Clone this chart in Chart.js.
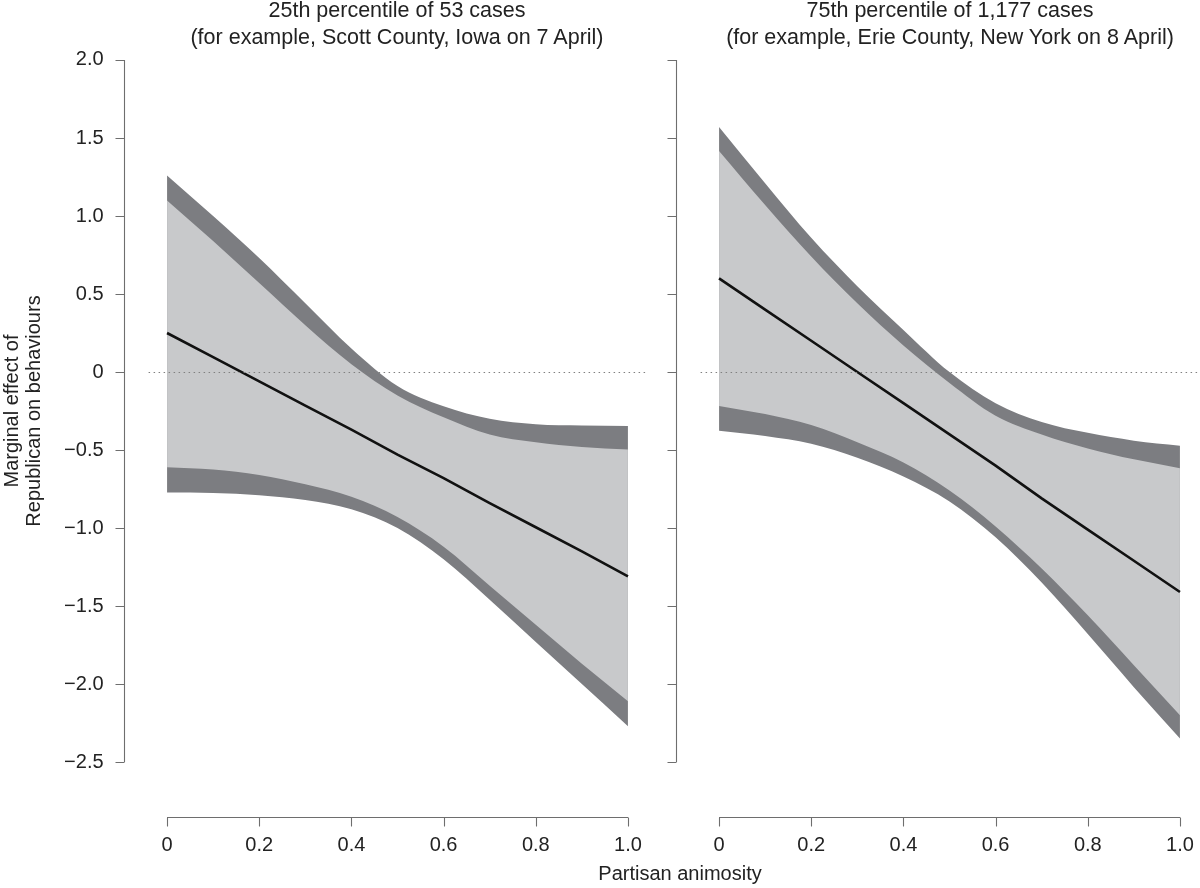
<!DOCTYPE html>
<html>
<head>
<meta charset="utf-8">
<script src="https://cdn.jsdelivr.net/npm/chart.js@4.4.1/dist/chart.umd.min.js"></script>
<style>
  body { margin: 0; background: #fff; font-family: "Liberation Sans", Arial, sans-serif; color: #222; }
  #fig { position: relative; width: 1200px; height: 888px; overflow: hidden; }
  .panel { position: absolute; top: 0; height: 888px; }
  .ptitle { position: absolute; top: -3px; transform: translateX(-50%); white-space: nowrap; text-align: center; font-size: 21.5px; line-height: 27px; }
  #xtitle { position: absolute; top: 862px; left: 680px; transform: translateX(-50%); font-size: 20px; line-height: 23px; white-space: nowrap; }
</style>
</head>
<body>
<div id="fig">
  <div class="panel" style="left:0;width:660px"><canvas id="left"></canvas></div>
  <div class="panel" style="left:660px;width:540px"><canvas id="right"></canvas></div>
  <div class="ptitle" style="left:397px">25th percentile of 53 cases<br>(for example, Scott County, Iowa on 7 April)</div>
  <div class="ptitle" style="left:950px">75th percentile of 1,177 cases<br>(for example, Erie County, New York on 8 April)</div>
  <div id="xtitle">Partisan animosity</div>
</div>
<script>
// partisan animosity grid
const animosity = [0, 0.1, 0.2, 0.3, 0.4, 0.5, 0.6, 0.7, 0.8, 0.9, 1.0];

// 25th percentile panel
const leftEffect     = [0.25, 0.095, -0.06, -0.215, -0.37, -0.53, -0.68, -0.84, -0.995, -1.15, -1.31];
const leftOuterUpper = [1.26, 1.00, 0.73, 0.44, 0.15, -0.09, -0.22, -0.30, -0.335, -0.343, -0.346];
const leftInnerUpper = [1.10, 0.84, 0.57, 0.30, 0.05, -0.15, -0.29, -0.40, -0.45, -0.48, -0.496];
const leftInnerLower = [-0.611, -0.625, -0.66, -0.72, -0.80, -0.93, -1.12, -1.37, -1.62, -1.87, -2.11];
const leftOuterLower = [-0.773, -0.775, -0.79, -0.82, -0.88, -1.00, -1.20, -1.46, -1.73, -2.00, -2.27];

// 75th percentile panel
const rightEffect     = [0.60, 0.40, 0.20, 0.00, -0.20, -0.40, -0.60, -0.81, -1.01, -1.21, -1.41];
const rightOuterUpper = [1.57, 1.21, 0.86, 0.55, 0.27, 0.00, -0.20, -0.32, -0.39, -0.44, -0.472];
const rightInnerUpper = [1.417, 1.07, 0.74, 0.44, 0.17, -0.07, -0.28, -0.40, -0.49, -0.56, -0.617];
const rightInnerLower = [-0.218, -0.27, -0.34, -0.45, -0.58, -0.76, -0.99, -1.26, -1.56, -1.88, -2.20];
const rightOuterLower = [-0.376, -0.41, -0.46, -0.55, -0.67, -0.83, -1.06, -1.35, -1.68, -2.02, -2.35];

const xTicks = [0, 0.2, 0.4, 0.6, 0.8, 1.0];
const xTickLabels = ['0', '0.2', '0.4', '0.6', '0.8', '1.0'];
const yTicks = [2.0, 1.5, 1.0, 0.5, 0, -0.5, -1.0, -1.5, -2.0, -2.5];
const yTickLabels = ['2.0', '1.5', '1.0', '0.5', '0', '\u22120.5', '\u22121.0', '\u22121.5', '\u22122.0', '\u22122.5'];

const DARK = '#7c7d81';
const LIGHT = '#c8c9cb';
const FONT = "'Liberation Sans', Arial, sans-serif";

// R-style detached axes + dotted zero line
const rAxes = {
  id: 'rAxes',
  afterDatasetsDraw(chart) {
    const { ctx, chartArea: a, scales: { y } } = chart;
    const y0 = Math.round(y.getPixelForValue(0)) + 0.5;
    ctx.save();
    ctx.strokeStyle = '#808080';
    ctx.lineWidth = 1.2;
    ctx.setLineDash([1.5, 3.5]);
    ctx.beginPath(); ctx.moveTo(a.left, y0); ctx.lineTo(a.right, y0); ctx.stroke();
    ctx.restore();
  },
  afterDraw(chart) {
    const { ctx, chartArea: a, scales: { x, y } } = chart;
    ctx.save();
    ctx.strokeStyle = '#6e6e6e';
    ctx.lineWidth = 1.1;
    const ax = Math.round(a.left - 25) + 0.5;
    ctx.beginPath();
    ctx.moveTo(ax, y.getPixelForValue(yTicks[0]));
    ctx.lineTo(ax, y.getPixelForValue(yTicks[yTicks.length - 1]));
    yTicks.forEach(v => {
      const p = Math.round(y.getPixelForValue(v)) + 0.5;
      ctx.moveTo(ax - 9, p); ctx.lineTo(ax, p);
    });
    const ay = Math.round(a.bottom + 27) + 0.5;
    ctx.moveTo(x.getPixelForValue(xTicks[0]), ay);
    ctx.lineTo(x.getPixelForValue(xTicks[xTicks.length - 1]), ay);
    xTicks.forEach(v => {
      const p = Math.round(x.getPixelForValue(v)) + 0.5;
      ctx.moveTo(p, ay); ctx.lineTo(p, ay + 9);
    });
    ctx.stroke();
    ctx.restore();
  }
};

function pts(ys) {
  return animosity.map((v, i) => ({ x: v, y: ys[i] }));
}

function band(ys, color, fill) {
  return {
    data: pts(ys),
    borderWidth: 0,
    borderColor: 'rgba(0,0,0,0)',
    backgroundColor: color,
    pointRadius: 0,
    cubicInterpolationMode: 'monotone',
    fill: fill
  };
}

function makePanel(id, eff, ou, iu, il, ol, yWidth, padRight, showY) {
  return new Chart(document.getElementById(id), {
    type: 'line',
    data: {
      datasets: [
        { data: pts(eff), borderColor: '#111', borderWidth: 2.6, pointRadius: 0, fill: false },
        band(iu, LIGHT, '+1'),
        band(il, LIGHT, false),
        band(ou, DARK, '+1'),
        band(ol, DARK, false)
      ]
    },
    options: {
      responsive: true,
      maintainAspectRatio: false,
      animation: false,
      events: [],
      layout: { padding: { top: 31.9, right: padRight, left: 0, bottom: 0 } },
      plugins: { legend: { display: false }, tooltip: { enabled: false } },
      scales: {
        x: {
          type: 'linear', min: -0.04, max: 1.04,
          grid: { display: false, drawTicks: true, tickLength: 43 },
          border: { display: false },
          afterBuildTicks: s => { s.ticks = xTicks.map(v => ({ value: v })); },
          afterFit: s => { s.height = 97.9; },
          ticks: {
            padding: 0, maxRotation: 0, autoSkip: false,
            color: '#222', font: { family: FONT, size: 20 },
            callback: (v, i) => xTickLabels[i]
          }
        },
        y: {
          type: 'linear', min: -2.68, max: 2.18,
          grid: { display: false, drawTicks: true, tickLength: 45 },
          border: { display: false },
          afterBuildTicks: s => { s.ticks = yTicks.map(v => ({ value: v })); },
          afterFit: s => { s.width = yWidth; },
          ticks: {
            display: showY, padding: 0, autoSkip: false,
            color: '#222', font: { family: FONT, size: 20 },
            callback: (v, i) => yTickLabels[i]
          },
          title: {
            display: showY,
            text: ['Marginal effect of', 'Republican on behaviours'],
            color: '#222',
            font: { family: FONT, size: 20, lineHeight: 1.1 },
            padding: { top: 1, bottom: 0 }
          }
        }
      }
    },
    plugins: [rAxes]
  });
}

makePanel('left', leftEffect, leftOuterUpper, leftInnerUpper, leftInnerLower, leftOuterLower, 148.6, 13.6, true);
makePanel('right', rightEffect, rightOuterUpper, rightInnerUpper, rightInnerLower, rightOuterLower, 40.6, 1.6, false);
</script>
</body>
</html>
